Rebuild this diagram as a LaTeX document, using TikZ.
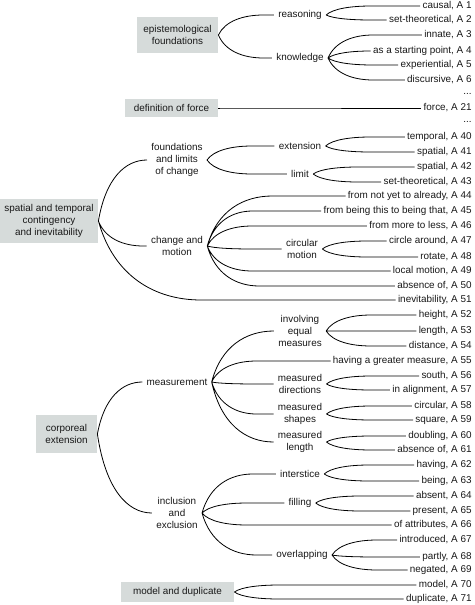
\documentclass[tikz,border=0pt]{standalone}
\usepackage{fontspec}
\setmainfont{Liberation Sans}
\usetikzlibrary{calc}
\definecolor{boxgray}{RGB}{214,219,218}
\definecolor{inkgray}{RGB}{24,24,24}
\tikzset{
  every node/.style={font=\fontsize{9.9}{11.6}\selectfont, text=inkgray},
  topic/.style={fill=boxgray, align=center, inner sep=0pt},
  sub/.style={align=center, inner xsep=4pt, inner ysep=1pt},
  leaf/.style={anchor=east, inner sep=2pt},
  branch/.style={to path={let \p1=(\tikztostart), \p2=(\tikztotarget),
      \n1={min(\x2-\x1, max(45, 1.3*abs(\y2-\y1)))}, \n2={\y2-\y1} in
      .. controls ({\x1+0.15*\n1*1pt},{\y1+0.7*\n2*1pt}) and ({\x1+0.55*\n1*1pt},\y2)
      .. ({\x1+\n1*1pt},\y2) -- (\p2)}}
}
\begin{document}
\begin{tikzpicture}[x=1pt,y=-1pt,line width=0.8pt]
\useasboundingbox (0,0) rectangle (474,605);

% grey topic boxes
\node[topic, minimum width=81pt, minimum height=36pt] (epi) at (177.5,35) {epistemological\\foundations};
\node[topic, minimum width=93pt, minimum height=18pt] (defn) at (171.5,108) {definition of force};
\node[topic, minimum width=98pt, minimum height=44pt] (spat) at (49,221) {spatial and temporal\\contingency\\and inevitability};
\node[topic, minimum width=61pt, minimum height=38pt] (corp) at (66.5,434) {corporeal\\extension};
\node[topic, minimum width=113pt, minimum height=20pt] (model) at (177.5,592) {model and duplicate};

% sub topics
\node[sub] (reas) at (300,15) {reasoning};
\node[sub] (know) at (300,58) {knowledge};
\node[sub] (found) at (177,160) {foundations\\and limits\\of change};
\node[sub] (ext) at (300,146) {extension};
\node[sub] (lim) at (300,174) {limit};
\node[sub] (chg) at (177,246) {change and\\motion};
\node[sub] (circ) at (302,249) {circular\\motion};
\node[sub] (meas) at (177,382) {measurement};
\node[sub] (equal) at (300,331) {involving\\equal\\measures};
\node[sub] (dirs) at (300,384) {measured\\directions};
\node[sub] (shp) at (300,414) {measured\\shapes};
\node[sub] (mlen) at (300,442) {measured\\length};
\node[sub] (incl) at (177,513) {inclusion\\and\\exclusion};
\node[sub] (inter) at (300,474) {interstice};
\node[sub] (fill) at (300,503) {filling};
\node[sub] (over) at (302,555) {overlapping};

% leaves
\node[leaf] (a1) at (474,6) {causal, A 1};
\node[leaf] (a2) at (474,20) {set-theoretical, A 2};
\node[leaf] (a3) at (474,35) {innate, A 3};
\node[leaf] (a4) at (474,51) {as a starting point, A 4};
\node[leaf] (a5) at (474,65) {experiential, A 5};
\node[leaf] (a6) at (474,80) {discursive, A 6};
\node[leaf] (dots1) at (474,94) {...};
\node[leaf] (a21) at (474,108) {force, A 21};
\node[leaf] (dots2) at (474,122) {...};
\node[leaf] (a40) at (474,137) {temporal, A 40};
\node[leaf] (a41) at (474,152) {spatial, A 41};
\node[leaf] (a42) at (474,167) {spatial, A 42};
\node[leaf] (a43) at (474,182) {set-theoretical, A 43};
\node[leaf] (a44) at (474,196) {from not yet to already, A 44};
\node[leaf] (a45) at (474,211) {from being this to being that, A 45};
\node[leaf] (a46) at (474,226) {from more to less, A 46};
\node[leaf] (a47) at (474,241) {circle around, A 47};
\node[leaf] (a48) at (474,257) {rotate, A 48};
\node[leaf] (a49) at (474,271) {local motion, A 49};
\node[leaf] (a50) at (474,286) {absence of, A 50};
\node[leaf] (a51) at (474,300) {inevitability, A 51};
\node[leaf] (a52) at (474,315) {height, A 52};
\node[leaf] (a53) at (474,331) {length, A 53};
\node[leaf] (a54) at (474,346) {distance, A 54};
\node[leaf] (a55) at (474,361) {having a greater measure, A 55};
\node[leaf] (a56) at (474,376) {south, A 56};
\node[leaf] (a57) at (474,390) {in alignment, A 57};
\node[leaf] (a58) at (474,406) {circular, A 58};
\node[leaf] (a59) at (474,420) {square, A 59};
\node[leaf] (a60) at (474,436) {doubling, A 60};
\node[leaf] (a61) at (474,450) {absence of, A 61};
\node[leaf] (a62) at (474,465) {having, A 62};
\node[leaf] (a63) at (474,481) {being, A 63};
\node[leaf] (a64) at (474,496) {absent, A 64};
\node[leaf] (a65) at (474,511) {present, A 65};
\node[leaf] (a66) at (474,525) {of attributes, A 66};
\node[leaf] (a67) at (474,540) {introduced, A 67};
\node[leaf] (a68) at (474,557) {partly, A 68};
\node[leaf] (a69) at (474,570) {negated, A 69};
\node[leaf] (a70) at (474,585) {model, A 70};
\node[leaf] (a71) at (474,599) {duplicate, A 71};

% connectors
\draw (epi.east) to[branch] (reas.west) (epi.east) to[branch] (know.west);
\draw (reas.east) to[branch] (a1.west) (reas.east) to[branch] (a2.west);
\draw (know.east) to[branch] (a3.west) (know.east) to[branch] (a4.west)
      (know.east) to[branch] (a5.west) (know.east) to[branch] (a6.west);
\draw (defn.east) to[branch] (a21.west);
\draw (spat.east) to[branch] (found.west) (spat.east) to[branch] (chg.west)
      (spat.east) to[branch] (a51.west);
\draw (found.east) to[branch] (ext.west) (found.east) to[branch] (lim.west);
\draw (ext.east) to[branch] (a40.west) (ext.east) to[branch] (a41.west);
\draw (lim.east) to[branch] (a42.west) (lim.east) to[branch] (a43.west);
\draw (chg.east) to[branch] (a44.west) (chg.east) to[branch] (a45.west)
      (chg.east) to[branch] (a46.west) (chg.east) to[branch] (circ.west)
      (chg.east) to[branch] (a49.west) (chg.east) to[branch] (a50.west);
\draw (circ.east) to[branch] (a47.west) (circ.east) to[branch] (a48.west);
\draw (corp.east) to[branch] (meas.west) (corp.east) to[branch] (incl.west);
\draw (meas.east) to[branch] (equal.west) (meas.east) to[branch] (a55.west)
      (meas.east) to[branch] (dirs.west) (meas.east) to[branch] (shp.west)
      (meas.east) to[branch] (mlen.west);
\draw (equal.east) to[branch] (a52.west) (equal.east) to[branch] (a53.west)
      (equal.east) to[branch] (a54.west);
\draw (dirs.east) to[branch] (a56.west) (dirs.east) to[branch] (a57.west);
\draw (shp.east) to[branch] (a58.west) (shp.east) to[branch] (a59.west);
\draw (mlen.east) to[branch] (a60.west) (mlen.east) to[branch] (a61.west);
\draw (incl.east) to[branch] (inter.west) (incl.east) to[branch] (fill.west)
      (incl.east) to[branch] (a66.west) (incl.east) to[branch] (over.west);
\draw (inter.east) to[branch] (a62.west) (inter.east) to[branch] (a63.west);
\draw (fill.east) to[branch] (a64.west) (fill.east) to[branch] (a65.west);
\draw (over.east) to[branch] (a67.west) (over.east) to[branch] (a68.west)
      (over.east) to[branch] (a69.west);
\draw (model.east) to[branch] (a70.west) (model.east) to[branch] (a71.west);
\end{tikzpicture}
\end{document}
